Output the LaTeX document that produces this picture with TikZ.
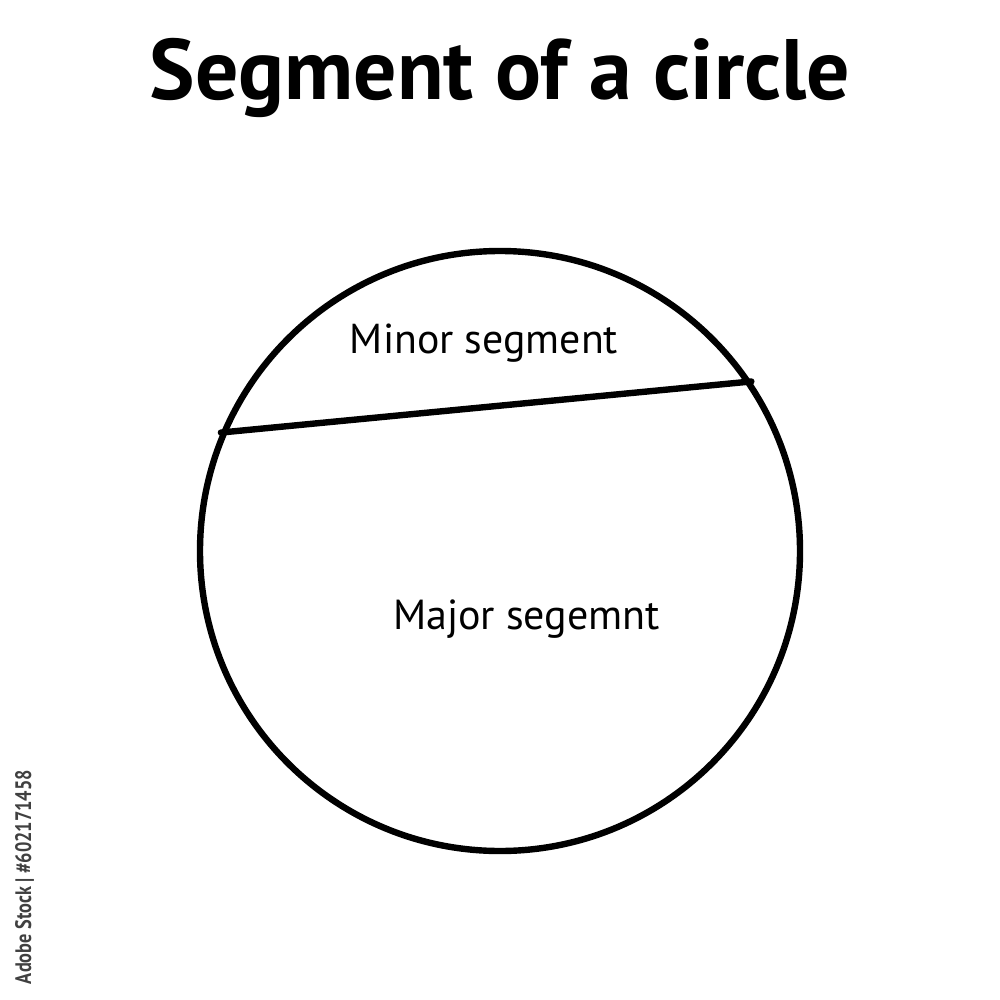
\documentclass[tikz,border=0pt]{standalone}
\usepackage{fontspec}
\setmainfont{PT Sans}
\begin{document}
\begin{tikzpicture}[x=0.5pt,y=-0.5pt,
  lbl/.style={font=\fontsize{20}{24}\selectfont, anchor=base, inner sep=0pt},
  ttl/.style={font=\bfseries\fontsize{40}{48}\selectfont, anchor=base, inner sep=0pt},
  wm/.style={font=\bfseries\fontsize{11}{13}\selectfont, text=black!75, anchor=base, inner sep=0pt, rotate=90}]
\useasboundingbox[fill=white] (0,0) rectangle (1000,1000);
\node[ttl] (title) at (500,100) {\resizebox{350pt}{!}{Segment of a circle}};
\node[circle, draw, line width=3.2pt, minimum size=300pt, inner sep=0pt] (c) at (500,551) {};
\draw[line width=3.2pt, line cap=round] (c.157) -- (c.34.4);
\node[lbl] (minor) at (484,353) {\resizebox{134pt}{!}{Minor segment}};
\node[lbl] (major) at (526.5,629) {\resizebox{133.5pt}{!}{Major segemnt}};
\node[wm] (mark) at (31,877) {\resizebox{107pt}{8pt}{Adobe Stock | \#602171458}};
\end{tikzpicture}
\end{document}
